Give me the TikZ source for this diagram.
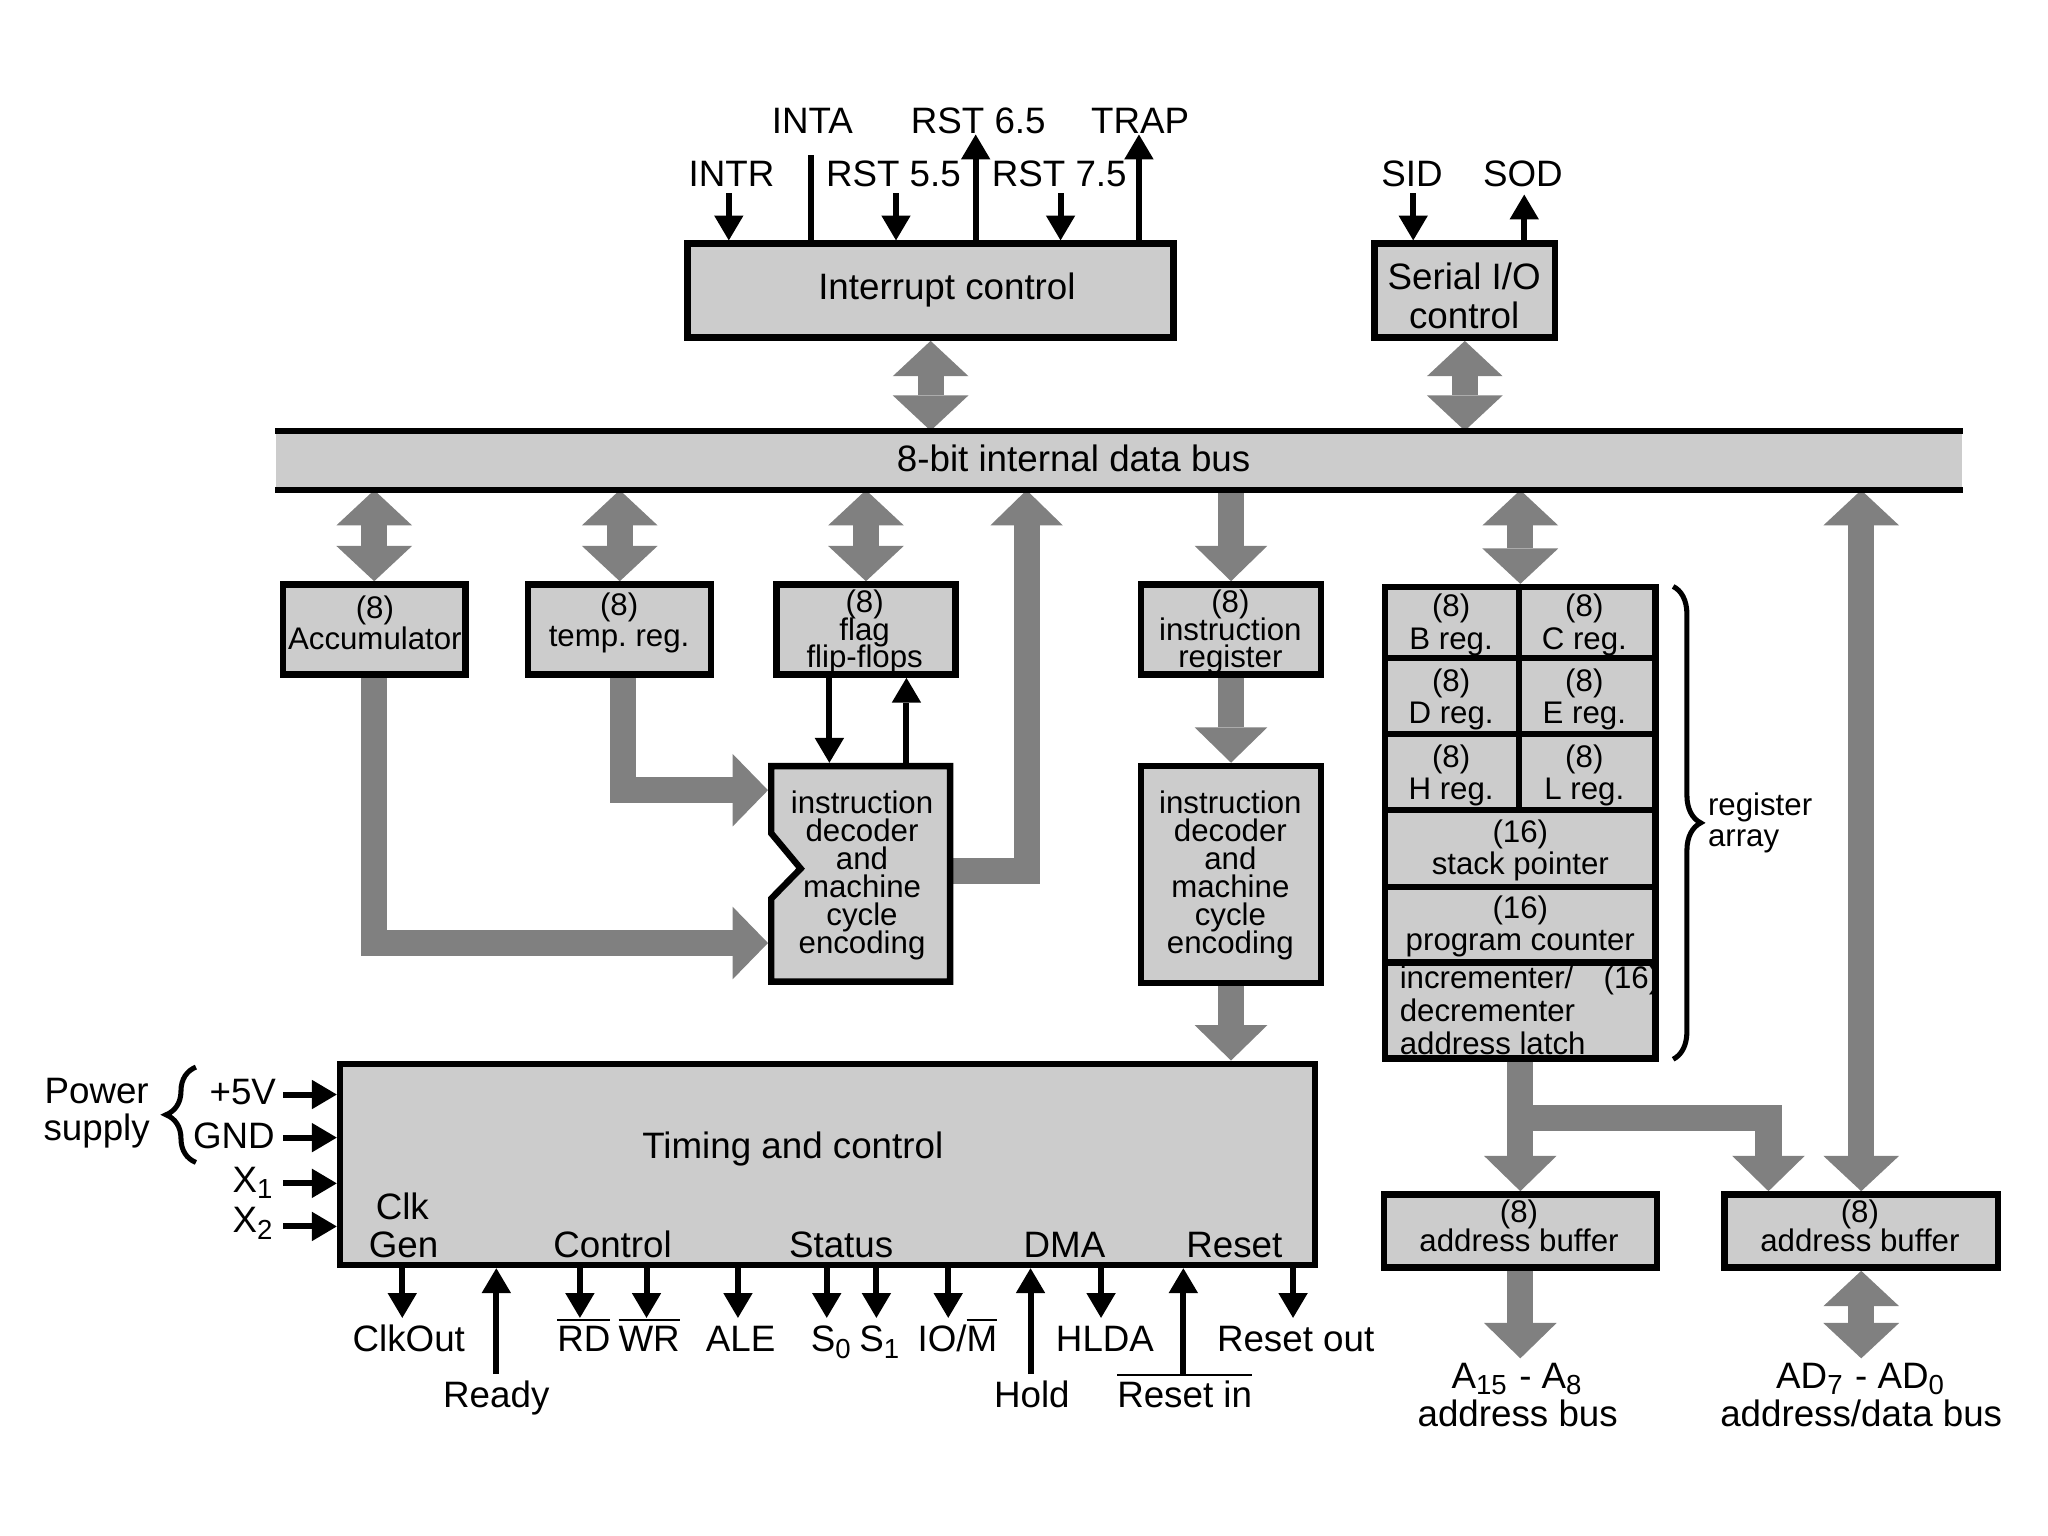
\documentclass[tikz,border=0pt]{standalone}
\usepackage{fontspec}
\setmainfont{Liberation Sans}
\usetikzlibrary{arrows.meta,decorations.pathreplacing}
\definecolor{boxgray}{RGB}{204,204,204}
\definecolor{agray}{RGB}{128,128,128}
\pgfdeclarelayer{bg}
\pgfsetlayers{bg,main}
\newcommand\mytight{\lineskiplimit=-10pt\relax}
\tikzset{
  blk/.style={draw, line width=1.4pt, fill=boxgray, inner sep=0pt, align=center,
    font=\fontsize{6.8pt}{7.0pt}\selectfont\mytight},
  cell/.style={blk},
  btxt/.style={inner sep=0pt, align=center, font=\fontsize{6.8pt}{6.8pt}\selectfont\mytight},
  btxt3/.style={btxt, font=\fontsize{6.8pt}{6.0pt}\selectfont\mytight},
  btxt6/.style={btxt, font=\fontsize{6.8pt}{6.1pt}\selectfont\mytight},
  lbl/.style={inner sep=0pt, font=\fontsize{8pt}{9pt}\selectfont, anchor=base},
  small/.style={inner sep=0pt, font=\fontsize{6.8pt}{7pt}\selectfont, anchor=base west},
  sig/.style={line width=1.3pt, -{Triangle[length=5.4pt,width=6.4pt,line width=0pt]}},
  plainline/.style={line width=1.3pt},
  garrow/.style={draw=agray, line width=5.7pt, line join=miter,
    -{Triangle[length=7.7pt,width=15.8pt,line width=0pt]}},
  gdbl/.style={draw=agray, line width=5.7pt,
    {Triangle[length=7.7pt,width=16.5pt,line width=0pt]}-{Triangle[length=7.7pt,width=16.5pt,line width=0pt]}},
  brc/.style={decorate, decoration={brace, amplitude=6pt}, line width=1.1pt},
}
\begin{document}
\begin{tikzpicture}[x=0.01cm, y=-0.01cm]
\useasboundingbox (0,0) rectangle (1568,1176);

% ---------- top blocks ----------
\node[blk, minimum width=3.72cm, minimum height=0.72cm] (intc) at (712.5,222.5) {};
\node[lbl, anchor=center] (intcT) at (725,222) {Interrupt control};
\node[blk, minimum width=1.38cm, minimum height=0.72cm] (sio) at (1121.5,222.5) {};
\node[lbl, anchor=center, align=center, font=\fontsize{8pt}{8.3pt}\selectfont\mytight] (sioT) at (1121,226.5) {Serial I/O\\control};

% bus
\node[fill=boxgray, inner sep=0pt, minimum width=12.9cm, minimum height=0.44cm] (bus) at (857,352.5) {};
\draw[line width=1.4pt] (bus.north west) -- (bus.north east);
\draw[line width=1.4pt] (bus.south west) -- (bus.south east);
\node[inner sep=0pt, font=\fontsize{8pt}{9pt}\selectfont] (busT) at (822,351) {8-bit internal data bus};

% ---------- registers left ----------
\node[blk, minimum width=1.40cm, minimum height=0.69cm] (acc) at (286.5,482) {};
\node[btxt] (accT) at (287,477) {(8)\\Accumulator};
\node[blk, minimum width=1.40cm, minimum height=0.69cm] (temp) at (474.5,482) {};
\node[btxt] (tempT) at (474,477) {(8)\\temp.\ reg.};
\node[blk, minimum width=1.37cm, minimum height=0.69cm] (flag) at (663,482) {};
\node[btxt3] (flagT) at (662,484) {(8)\\flag\\flip-flops};
\node[blk, minimum width=1.38cm, minimum height=0.69cm] (ir) at (942.5,482) {};
\node[btxt3] (irT) at (942,484) {(8)\\instruction\\register};

% decoder with notch
\draw[line width=1.4pt, fill=boxgray, line join=miter] (590.5,586.5) -- (727.5,586.5) -- (727.5,751.5) -- (590.5,751.5) -- (590.5,688) -- (613,665) -- (590.5,638) -- cycle;
\node[inner sep=0pt, outer sep=0.7pt, minimum width=1.37cm, minimum height=1.65cm] (dec1) at (659,669) {};
\node[btxt6] (dec1T) at (660,670) {instruction\\decoder\\and\\machine\\cycle\\encoding};

\node[blk, minimum width=1.38cm, minimum height=1.66cm] (dec2) at (942.5,669.5) {};
\node[btxt6] (dec2T) at (942,670) {instruction\\decoder\\and\\machine\\cycle\\encoding};

% ---------- register array ----------
\node[cell, minimum width=1.025cm, minimum height=0.545cm] (regB) at (1111.75,476.75) {};
\node[cell, minimum width=1.045cm, minimum height=0.545cm] (regC) at (1215.25,476.75) {};
\node[cell, minimum width=1.025cm, minimum height=0.58cm] (regD) at (1111.75,533) {};
\node[cell, minimum width=1.045cm, minimum height=0.58cm] (regE) at (1215.25,533) {};
\node[cell, minimum width=1.025cm, minimum height=0.58cm] (regH) at (1111.75,591) {};
\node[cell, minimum width=1.045cm, minimum height=0.58cm] (regL) at (1215.25,591) {};
\node[cell, minimum width=2.07cm, minimum height=0.59cm] (regSP) at (1164,649.5) {};
\node[cell, minimum width=2.07cm, minimum height=0.58cm] (regPC) at (1164,708) {};
\node[cell, minimum width=2.07cm, minimum height=0.735cm] (regInc) at (1164,773.75) {};
\node[btxt, font=\fontsize{6.8pt}{7.0pt}\selectfont\mytight] (regBT) at (1111,478.5) {(8)\\B reg.};
\node[btxt, font=\fontsize{6.8pt}{7.0pt}\selectfont\mytight] (regCT) at (1213,478.5) {(8)\\C reg.};
\node[btxt, font=\fontsize{6.8pt}{7.0pt}\selectfont\mytight] (regDT) at (1111,535.5) {(8)\\D reg.};
\node[btxt, font=\fontsize{6.8pt}{7.0pt}\selectfont\mytight] (regET) at (1213,535.5) {(8)\\E reg.};
\node[btxt, font=\fontsize{6.8pt}{7.0pt}\selectfont\mytight] (regHT) at (1111,593.5) {(8)\\H reg.};
\node[btxt, font=\fontsize{6.8pt}{7.0pt}\selectfont\mytight] (regLT) at (1213,593.5) {(8)\\L reg.};
\node[btxt, font=\fontsize{6.8pt}{7.0pt}\selectfont\mytight] (regSPT) at (1164,651) {(16)\\stack pointer};
\node[btxt, font=\fontsize{6.8pt}{7.0pt}\selectfont\mytight] (regPCT) at (1164,709.5) {(16)\\program counter};
\node[small] (inc1) at (1071,757) {incrementer/};
\node[small] (inc2) at (1071,782) {decrementer};
\node[small] (inc3) at (1071,807) {address latch};
\node[small, anchor=base east] (inc16) at (1271,757) {(16)};

\draw[brc] (1281,449) -- (1281,811);
\node[small] (rega1) at (1307,624) {register};
\node[small] (rega2) at (1307,648) {array};

% ---------- timing and control ----------
\node[blk, minimum width=7.46cm, minimum height=1.54cm] (timing) at (633.5,891.5) {};
\node[lbl] (tcT) at (607,887) {Timing and control};
\node[lbl] (tClk) at (308,934) {Clk};
\node[lbl] (tGen) at (309,963) {Gen};
\node[lbl] (tCtl) at (469,963) {Control};
\node[lbl] (tSt) at (644,963) {Status};
\node[lbl] (tDMA) at (815,963) {DMA};
\node[lbl] (tRst) at (945,963) {Reset};

% ---------- address buffers ----------
\node[blk, minimum width=2.09cm, minimum height=0.56cm] (buf1) at (1164,942.5) {};
\node[btxt, font=\fontsize{6.8pt}{6.5pt}\selectfont\mytight] (buf1T) at (1163,938.5) {(8)\\address buffer};
\node[blk, minimum width=2.09cm, minimum height=0.56cm] (buf2) at (1425,942.5) {};
\node[btxt, font=\fontsize{6.8pt}{6.5pt}\selectfont\mytight] (buf2T) at (1424,938.5) {(8)\\address buffer};

% ---------- gray buses ----------
\coordinate (accIn) at (588,722);
\coordinate (tmpIn) at (588,605);
\coordinate (decR) at (786,667);
\coordinate (brJ) at (1164,856);
\coordinate (brR) at (1354,856);
\coordinate (abusT) at (1164,1040);
\coordinate (adT) at (1425,1040);
\begin{pgfonlayer}{bg}
\draw[gdbl] (intc.south) -- (intc.south |- bus.north);
\draw[gdbl] (sio.south) -- (sio.south |- bus.north);
\draw[gdbl] (acc.north |- bus.south) -- (acc.north);
\draw[gdbl] (temp.north |- bus.south) -- (temp.north);
\draw[gdbl] (flag.north |- bus.south) -- (flag.north);
\draw[garrow] (acc.south) |- (accIn);
\draw[garrow] ([xshift=0.025cm]temp.south) |- (tmpIn);
\draw[garrow] (dec1.east |- decR) -- (decR) -- (decR |- bus.south);
\draw[garrow] (ir.north |- bus.south) -- (ir.north);
\draw[garrow] (ir.south) -- (dec2.north);
\draw[garrow] (dec2.south) -- (dec2.south |- timing.north);
\draw[gdbl] (regSP.north |- bus.south) -- (regSP.north |- regB.north);
\draw[gdbl] (buf2.north |- bus.south) -- (buf2.north);
\draw[garrow] (regInc.south) -- (buf1.north);
\draw[garrow] (brJ) -- (brR) -- (brR |- buf2.north);
\draw[garrow] (buf1.south) -- (abusT);
\draw[gdbl] (buf2.south) -- (adT);
\end{pgfonlayer}

\node[lbl] (lA) at (1162,1063) {A\textsubscript{15} - A\textsubscript{8}};
\node[lbl] (lAb) at (1162,1092) {address bus};
\node[lbl] (lAD) at (1425,1063) {AD\textsubscript{7} - AD\textsubscript{0}};
\node[lbl] (lADb) at (1425,1092) {address/data bus};

% ---------- flag <-> decoder ----------
\coordinate (fdX) at (635,550);
\coordinate (duX) at (694,550);
\draw[sig] (fdX |- flag.south) -- (fdX |- dec1.north);
\draw[sig] (duX |- dec1.north) -- (duX |- flag.south);

% ---------- interrupt signals ----------
\node[lbl] (lINTA) at (622,102) {INTA};
\node[lbl] (lINTR) at (560,143) {INTR};
\node[lbl] (lR55) at (684,143) {RST 5.5};
\node[lbl] (lR65) at (749,102) {RST 6.5};
\node[lbl] (lR75) at (811,143) {RST 7.5};
\node[lbl] (lTRAP) at (873,102) {TRAP};
\node[lbl] (lSID) at (1081,143) {SID};
\node[lbl] (lSOD) at (1166,143) {SOD};
\coordinate (intrT) at (558,148);
\coordinate (intaT) at (621,119);
\coordinate (r55T) at (686,148);
\coordinate (r65T) at (747,103);
\coordinate (r75T) at (812,148);
\coordinate (trapT) at (872,103);
\coordinate (sidT) at (1082,148);
\coordinate (sodT) at (1167,149);
\draw[sig] (intrT) -- (intrT |- intc.north);
\draw[plainline] (intaT) -- (intaT |- intc.north);
\draw[sig] (r55T) -- (r55T |- intc.north);
\draw[sig] (r65T |- intc.north) -- (r65T);
\draw[sig] (r75T) -- (r75T |- intc.north);
\draw[sig] (trapT |- intc.north) -- (trapT);
\draw[sig] (sidT) -- (sidT |- sio.north);
\draw[sig] (sodT |- sio.north) -- (sodT);

% ---------- power / clock inputs ----------
\node[lbl] (lpow) at (74,845) {Power};
\node[lbl] (lsup) at (74,873) {supply};
\draw[brc, decoration={brace, amplitude=6.5pt}] (150,890) -- (150,817);
\node[lbl, anchor=base east] (l5v) at (212,846) {+5V};
\node[lbl, anchor=base east] (lgnd) at (211,879) {GND};
\node[lbl, anchor=base east] (lx1) at (211,913) {X\textsubscript{1}};
\node[lbl, anchor=base east] (lx2) at (211,944) {X\textsubscript{2}};
\coordinate (in5v) at (217,838);
\coordinate (ingnd) at (217,871);
\coordinate (inx1) at (217,906);
\coordinate (inx2) at (217,939);
\draw[sig] (in5v) -- (in5v -| timing.west);
\draw[sig] (ingnd) -- (ingnd -| timing.west);
\draw[sig] (inx1) -- (inx1 -| timing.west);
\draw[sig] (inx2) -- (inx2 -| timing.west);

% ---------- bottom signals ----------
\coordinate (oClk) at (308,1009);
\coordinate (iRdy) at (380,1052);
\coordinate (oRD) at (444,1009);
\coordinate (oWR) at (495,1009);
\coordinate (oALE) at (565,1009);
\coordinate (oS0) at (633,1009);
\coordinate (oS1) at (671,1009);
\coordinate (oIOM) at (726,1009);
\coordinate (iHold) at (789,1052);
\coordinate (oHLDA) at (843,1009);
\coordinate (iRst) at (906,1052);
\coordinate (oRst) at (990,1009);
\draw[sig] (oClk |- timing.south) -- (oClk);
\draw[sig] (iRdy) -- (iRdy |- timing.south);
\draw[sig] (oRD |- timing.south) -- (oRD);
\draw[sig] (oWR |- timing.south) -- (oWR);
\draw[sig] (oALE |- timing.south) -- (oALE);
\draw[sig] (oS0 |- timing.south) -- (oS0);
\draw[sig] (oS1 |- timing.south) -- (oS1);
\draw[sig] (oIOM |- timing.south) -- (oIOM);
\draw[sig] (iHold) -- (iHold |- timing.south);
\draw[sig] (oHLDA |- timing.south) -- (oHLDA);
\draw[sig] (iRst) -- (iRst |- timing.south);
\draw[sig] (oRst |- timing.south) -- (oRst);

\node[lbl] (lClkOut) at (313,1035) {ClkOut};
\node[lbl] (lRD) at (447,1035) {\(\overline{\mbox{RD}}\)};
\node[lbl] (lWR) at (497,1035) {\(\overline{\mbox{WR}}\)};
\node[lbl] (lALE) at (567,1035) {ALE};
\node[lbl] (lS0) at (637,1035) {S\textsubscript{0}};
\node[lbl] (lS1) at (674,1035) {S\textsubscript{1}};
\node[lbl] (lIOM) at (733,1035) {IO/\(\overline{\mbox{M}}\)};
\node[lbl] (lHLDA) at (846,1035) {HLDA};
\node[lbl] (lRstOut) at (992,1035) {Reset out};
\node[lbl] (lReady) at (380,1078) {Ready};
\node[lbl] (lHold) at (790,1078) {Hold};
\node[lbl] (lRstIn) at (907,1078) {\(\overline{\mbox{Reset in}}\)};
\end{tikzpicture}
\end{document}
